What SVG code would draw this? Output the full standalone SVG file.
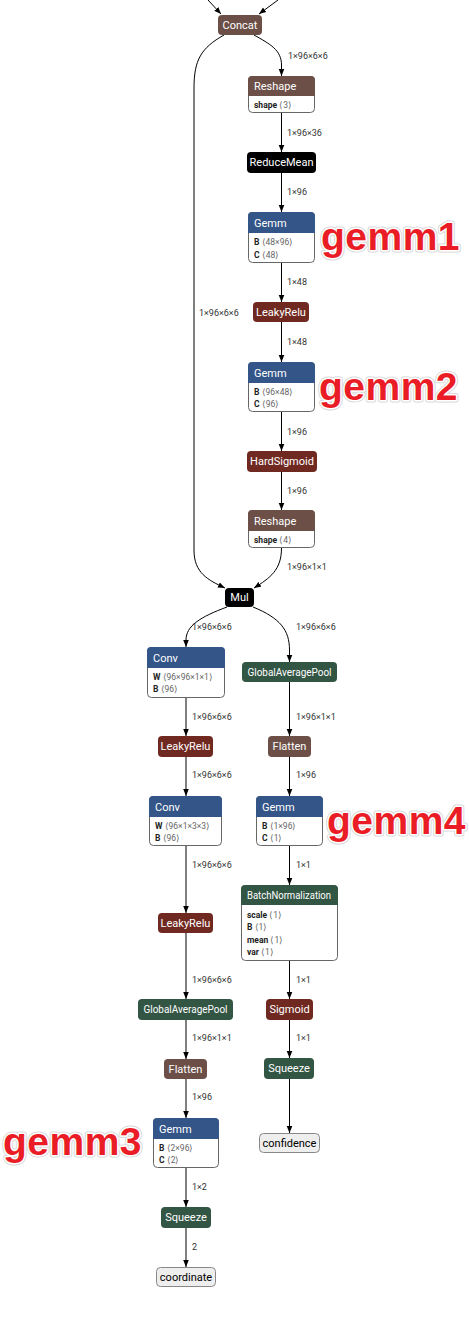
<svg xmlns="http://www.w3.org/2000/svg" width="469" height="1320" viewBox="0 0 469 1320">
<style>
.t{font-family:Roboto,"Liberation Sans",sans-serif;font-size:11px;fill:#fff}
.tc{text-anchor:middle}
.a{font-family:Roboto,"Liberation Sans",sans-serif;font-size:8.5px;fill:#666}
.a tspan.n{font-weight:bold;fill:#222}
.el{font-family:Roboto,"Liberation Sans",sans-serif;font-size:9px;fill:#333}
.e{fill:none;stroke:#000;stroke-width:1;marker-end:url(#ar)}
.bd{fill:#fff;stroke:#666;stroke-width:1}
.shape{fill:#6c4f47}
.act{fill:#702921}
.layer{fill:#335588}
.norm{fill:#335544}
.blk{fill:#000}
.io{fill:#eee;stroke:#888;stroke-width:1}
.iot{font-family:Roboto,"Liberation Sans",sans-serif;font-size:11px;fill:#000;text-anchor:middle}
.lbl{font-family:"Liberation Sans",Arial,sans-serif;font-weight:bold;font-size:39px;fill:#ea1d27;letter-spacing:0.5px}
.lbls{stroke:#d8d8d8;stroke-width:5;stroke-linejoin:round;fill:#d8d8d8}
.lblw{stroke:#fff;stroke-width:3;stroke-linejoin:round;fill:#fff}
</style>
<defs>
<marker id="ar" viewBox="0 0 10 10" refX="10" refY="5" markerWidth="7" markerHeight="7" markerUnits="userSpaceOnUse" orient="auto">
<path d="M0,1 L10,5 L0,9 z" fill="#000"/>
</marker>
</defs>
<g id="connectors">
<path class="e" d="M208,0 L221,14"/>
<path class="e" d="M278,0 L259,14"/>
<path class="e" d="M254,35 C270,44 281.5,50 281.5,65 L281.5,76"/>
<path class="e" d="M224,35 C201,48 194,60 194,88 L194,550 C194,573 208,580 225,588"/>
<path class="e" d="M281.5,113 L281.5,152"/>
<path class="e" d="M281.5,173 L281.5,212"/>
<path class="e" d="M281.5,263 L281.5,302"/>
<path class="e" d="M281.5,322 L281.5,362"/>
<path class="e" d="M281.5,412 L281.5,451"/>
<path class="e" d="M281.5,472 L281.5,510"/>
<path class="e" d="M281.5,548 C281.5,570 270,578 254,588"/>
<path class="e" d="M227,607 C200,617 186,626 186,640 L186,647"/>
<path class="e" d="M253,607 C280,618 289.5,630 289.5,650 L289.5,662"/>
<path class="e" d="M186,698 L186,736"/>
<path class="e" d="M186,757 L186,796"/>
<path class="e" d="M186,846 L186,913"/>
<path class="e" d="M186,933 L186,999"/>
<path class="e" d="M186,1020 L186,1059"/>
<path class="e" d="M186,1079 L186,1118"/>
<path class="e" d="M186,1168 L186,1207"/>
<path class="e" d="M186,1228 L186,1267"/>
<path class="e" d="M289.5,682 L289.5,736"/>
<path class="e" d="M289.5,757 L289.5,796"/>
<path class="e" d="M289.5,846 L289.5,885"/>
<path class="e" d="M289.5,961 L289.5,999"/>
<path class="e" d="M289.5,1020 L289.5,1058"/>
<path class="e" d="M289.5,1079 L289.5,1133"/>
<text class="el" x="288" y="59">1×96×6×6</text>
<text class="el" x="199" y="316">1×96×6×6</text>
<text class="el" x="287" y="136">1×96×36</text>
<text class="el" x="287" y="195">1×96</text>
<text class="el" x="287" y="285">1×48</text>
<text class="el" x="287" y="345">1×48</text>
<text class="el" x="287" y="435">1×96</text>
<text class="el" x="287" y="494">1×96</text>
<text class="el" x="287" y="570">1×96×1×1</text>
<text class="el" x="192" y="630">1×96×6×6</text>
<text class="el" x="296" y="630">1×96×6×6</text>
<text class="el" x="192" y="720">1×96×6×6</text>
<text class="el" x="296" y="720">1×96×1×1</text>
<text class="el" x="192" y="778">1×96×6×6</text>
<text class="el" x="296" y="778">1×96</text>
<text class="el" x="192" y="868">1×96×6×6</text>
<text class="el" x="296" y="868">1×1</text>
<text class="el" x="192" y="983">1×96×6×6</text>
<text class="el" x="296" y="983">1×1</text>
<text class="el" x="192" y="1041">1×96×1×1</text>
<text class="el" x="296" y="1041">1×1</text>
<text class="el" x="192" y="1100">1×96</text>
<text class="el" x="192" y="1190">1×2</text>
<text class="el" x="192" y="1250">2</text>
</g>
<g id="concat"><rect class="shape" x="218" y="15" width="44" height="20" rx="4"/><text class="t tc" x="240" y="29">Concat</text></g>
<g id="reshape1"><rect class="bd" x="248.5" y="76.5" width="66" height="36" rx="4"/><path class="shape" d="M248,96 V80 a4,4 0 0 1 4,-4 H311 a4,4 0 0 1 4,4 V96 z"/><text class="t" x="254" y="90">Reshape</text><text class="a" x="254" y="108"><tspan class="n">shape</tspan> ⟨3⟩</text></g>
<g id="reducemean"><rect class="blk" x="247" y="152" width="69" height="21" rx="4"/><text class="t tc" x="281.5" y="166">ReduceMean</text></g>
<g id="gemm1"><rect class="bd" x="248.5" y="212.5" width="66" height="50" rx="4"/><path class="layer" d="M248,233 V216 a4,4 0 0 1 4,-4 H311 a4,4 0 0 1 4,4 V233 z"/><text class="t" x="254" y="227">Gemm</text><text class="a" x="254" y="245"><tspan class="n">B</tspan> ⟨48×96⟩</text><text class="a" x="254" y="258"><tspan class="n">C</tspan> ⟨48⟩</text></g>
<g id="leakyrelu1"><rect class="act" x="253" y="302" width="56" height="20" rx="4"/><text class="t tc" x="281" y="316">LeakyRelu</text></g>
<g id="gemm2"><rect class="bd" x="248.5" y="362.5" width="66" height="49" rx="4"/><path class="layer" d="M248,383 V366 a4,4 0 0 1 4,-4 H311 a4,4 0 0 1 4,4 V383 z"/><text class="t" x="254" y="377">Gemm</text><text class="a" x="254" y="395"><tspan class="n">B</tspan> ⟨96×48⟩</text><text class="a" x="254" y="407"><tspan class="n">C</tspan> ⟨96⟩</text></g>
<g id="hardsigmoid"><rect class="act" x="247" y="451" width="70" height="21" rx="4"/><text class="t tc" x="282" y="465">HardSigmoid</text></g>
<g id="reshape2"><rect class="bd" x="248.5" y="510.5" width="66" height="37" rx="4"/><path class="shape" d="M248,531 V514 a4,4 0 0 1 4,-4 H311 a4,4 0 0 1 4,4 V531 z"/><text class="t" x="254" y="525">Reshape</text><text class="a" x="254" y="543"><tspan class="n">shape</tspan> ⟨4⟩</text></g>
<g id="mul"><rect class="blk" x="225" y="588" width="29" height="19" rx="4"/><text class="t tc" x="239.5" y="601">Mul</text></g>
<g id="conv1"><rect class="bd" x="147.5" y="647.5" width="77" height="50" rx="4"/><path class="layer" d="M147,668 V651 a4,4 0 0 1 4,-4 H221 a4,4 0 0 1 4,4 V668 z"/><text class="t" x="153" y="662">Conv</text><text class="a" x="153" y="680"><tspan class="n">W</tspan> ⟨96×96×1×1⟩</text><text class="a" x="153" y="692"><tspan class="n">B</tspan> ⟨96⟩</text></g>
<g id="leakyrelu2"><rect class="act" x="158" y="736" width="55" height="21" rx="4"/><text class="t tc" x="185.5" y="750">LeakyRelu</text></g>
<g id="conv2"><rect class="bd" x="149.5" y="796.5" width="72" height="49" rx="4"/><path class="layer" d="M149,817 V800 a4,4 0 0 1 4,-4 H218 a4,4 0 0 1 4,4 V817 z"/><text class="t" x="155" y="811">Conv</text><text class="a" x="155" y="829"><tspan class="n">W</tspan> ⟨96×1×3×3⟩</text><text class="a" x="155" y="841"><tspan class="n">B</tspan> ⟨96⟩</text></g>
<g id="leakyrelu3"><rect class="act" x="158" y="913" width="55" height="20" rx="4"/><text class="t tc" x="185.5" y="927">LeakyRelu</text></g>
<g id="gap1"><rect class="norm" x="138" y="999" width="95" height="21" rx="4"/><text class="t tc" x="185.5" y="1013" textLength="84" lengthAdjust="spacingAndGlyphs">GlobalAveragePool</text></g>
<g id="flatten1"><rect class="shape" x="164" y="1059" width="43" height="20" rx="4"/><text class="t tc" x="185.5" y="1073">Flatten</text></g>
<g id="gemm3"><rect class="bd" x="153.5" y="1118.5" width="65" height="49" rx="4"/><path class="layer" d="M153,1139 V1122 a4,4 0 0 1 4,-4 H215 a4,4 0 0 1 4,4 V1139 z"/><text class="t" x="159" y="1133">Gemm</text><text class="a" x="159" y="1151"><tspan class="n">B</tspan> ⟨2×96⟩</text><text class="a" x="159" y="1163"><tspan class="n">C</tspan> ⟨2⟩</text></g>
<g id="squeeze1"><rect class="norm" x="161" y="1207" width="50" height="21" rx="4"/><text class="t tc" x="186" y="1221">Squeeze</text></g>
<g id="coordinate"><rect class="io" x="156.5" y="1267.5" width="59" height="19" rx="4"/><text class="iot" x="186" y="1281">coordinate</text></g>
<g id="gap2"><rect class="norm" x="242" y="662" width="95" height="20" rx="4"/><text class="t tc" x="289.5" y="676" textLength="84" lengthAdjust="spacingAndGlyphs">GlobalAveragePool</text></g>
<g id="flatten2"><rect class="shape" x="268" y="736" width="43" height="21" rx="4"/><text class="t tc" x="289.5" y="750">Flatten</text></g>
<g id="gemm4"><rect class="bd" x="256.5" y="796.5" width="66" height="49" rx="4"/><path class="layer" d="M256,817 V800 a4,4 0 0 1 4,-4 H319 a4,4 0 0 1 4,4 V817 z"/><text class="t" x="262" y="811">Gemm</text><text class="a" x="262" y="829"><tspan class="n">B</tspan> ⟨1×96⟩</text><text class="a" x="262" y="841"><tspan class="n">C</tspan> ⟨1⟩</text></g>
<g id="batchnorm"><rect class="bd" x="241.5" y="885.5" width="96" height="75" rx="4"/><path class="norm" d="M241,905 V889 a4,4 0 0 1 4,-4 H334 a4,4 0 0 1 4,4 V905 z"/><text class="t" x="247" y="899" textLength="84" lengthAdjust="spacingAndGlyphs">BatchNormalization</text><text class="a" x="247" y="918"><tspan class="n">scale</tspan> ⟨1⟩</text><text class="a" x="247" y="930"><tspan class="n">B</tspan> ⟨1⟩</text><text class="a" x="247" y="943"><tspan class="n">mean</tspan> ⟨1⟩</text><text class="a" x="247" y="955"><tspan class="n">var</tspan> ⟨1⟩</text></g>
<g id="sigmoid"><rect class="act" x="266" y="999" width="47" height="21" rx="4"/><text class="t tc" x="289.5" y="1013">Sigmoid</text></g>
<g id="squeeze2"><rect class="norm" x="264" y="1058" width="50" height="21" rx="4"/><text class="t tc" x="289" y="1072">Squeeze</text></g>
<g id="confidence"><rect class="io" x="259.5" y="1133.5" width="60" height="19" rx="4"/><text class="iot" x="289.5" y="1147">confidence</text></g>
<g id="labels">
<text class="lbl lbls" x="321" y="250">gemm1</text><text class="lbl lblw" x="321" y="250">gemm1</text><text class="lbl" x="321" y="250">gemm1</text>
<text class="lbl lbls" x="319" y="400">gemm2</text><text class="lbl lblw" x="319" y="400">gemm2</text><text class="lbl" x="319" y="400">gemm2</text>
<text class="lbl lbls" x="327" y="834">gemm4</text><text class="lbl lblw" x="327" y="834">gemm4</text><text class="lbl" x="327" y="834">gemm4</text>
<text class="lbl lbls" x="3" y="1155">gemm3</text><text class="lbl lblw" x="3" y="1155">gemm3</text><text class="lbl" x="3" y="1155">gemm3</text>
</g>
</svg>
